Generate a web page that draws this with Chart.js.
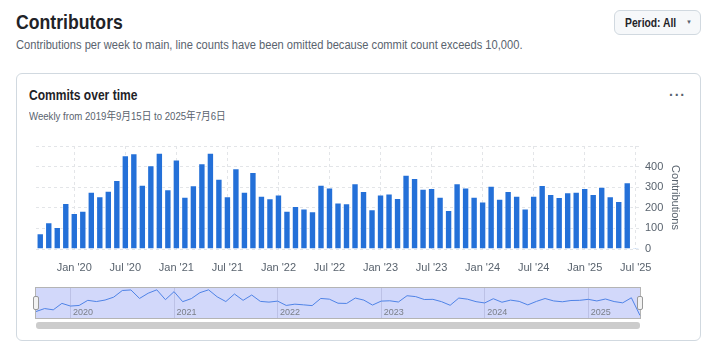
<!DOCTYPE html>
<html>
<head>
<meta charset="utf-8">
<script src="https://cdn.jsdelivr.net/npm/chart.js@4.4.1/dist/chart.umd.min.js"></script>
<style>
    body { margin: 0; width: 720px; height: 353px; overflow: hidden; background: #fff;
           font-family: "Liberation Sans", Arial, sans-serif; color: #1f2328; position: relative; }
    .abs { position: absolute; white-space: nowrap; }
    .narrow { transform-origin: 0 50%; }
    #title { left: 16px; top: 10px; font-size: 21px; font-weight: bold; transform: scaleX(0.84); }
    #sub { left: 16px; top: 38px; font-size: 12.5px; color: #59636e; transform: scaleX(0.89); }
    #period { left: 614px; top: 10px; width: 87px; height: 25px; box-sizing: border-box;
              border: 1px solid #d1d9e0; border-radius: 6px; background: #f6f8fa; }
    #ptext { left: 10px; top: 5px; font-size: 12px; font-weight: bold; transform: scaleX(0.86); }
    #caret { left: 71px; top: 8px; font-size: 6px; color: #59636e; }
    #card { left: 16px; top: 73px; width: 685px; height: 268px; box-sizing: border-box;
            border: 1px solid #d1d9e0; border-radius: 6px; }
    #ctitle { left: 29px; top: 87px; font-size: 14px; font-weight: bold; transform: scaleX(0.86); }
    #csub { left: 29px; top: 107px; font-size: 11px; color: #59636e; transform: scaleX(0.875);
            font-family: "Liberation Sans", "Noto Sans CJK JP", sans-serif; }
    #dots { left: 669px; top: 87px; font-size: 14px; font-weight: bold; letter-spacing: 1px; color: #59636e; }
    #nav { left: 35px; top: 287px; width: 606px; height: 32px; box-sizing: border-box;
           background: #d2d8fa; border: 1px solid #b4b4b4; }
    .handle { top: 296px; width: 6px; height: 14px; background: #f2f2f2; border: 1px solid #999;
              border-radius: 2px; box-sizing: border-box; }
    #scroll { left: 36px; top: 322px; width: 604px; height: 7px; background: #cccccc; border-radius: 3px; }
    canvas { position: absolute; left: 0; top: 0; }
</style>
</head>
<body>
<div class="abs narrow" id="title">Contributors</div>
<div class="abs narrow" id="sub">Contributions per week to main, line counts have been omitted because commit count exceeds 10,000.</div>
<div class="abs" id="period">
    <div class="abs narrow" id="ptext">Period: All</div>
    <div class="abs" id="caret">▼</div>
</div>
<div class="abs" id="card"></div>
<div class="abs narrow" id="ctitle">Commits over time</div>
<div class="abs narrow" id="csub">Weekly from 2019年9月15日 to 2025年7月6日</div>
<div class="abs" id="dots">···</div>
<div class="abs" id="nav"></div>
<div class="abs" id="scroll"></div>
<div style="position:absolute;left:0;top:0;width:720px;height:353px">
    <canvas id="mainChart" width="720" height="353"></canvas>
    <canvas id="navChart" width="720" height="353"></canvas>
</div>
<div class="abs handle" style="left:33px"></div>
<div class="abs handle" style="left:637px"></div>
<script>
// months shown as bars (Sep 2019 - Jul 2025)
const months = [
    '2019-09', '2019-10', '2019-11', '2019-12',
    '2020-01', '2020-02', '2020-03', '2020-04', '2020-05', '2020-06',
    '2020-07', '2020-08', '2020-09', '2020-10', '2020-11', '2020-12',
    '2021-01', '2021-02', '2021-03', '2021-04', '2021-05', '2021-06',
    '2021-07', '2021-08', '2021-09', '2021-10', '2021-11', '2021-12',
    '2022-01', '2022-02', '2022-03', '2022-04', '2022-05', '2022-06',
    '2022-07', '2022-08', '2022-09', '2022-10', '2022-11', '2022-12',
    '2023-01', '2023-02', '2023-03', '2023-04', '2023-05', '2023-06',
    '2023-07', '2023-08', '2023-09', '2023-10', '2023-11', '2023-12',
    '2024-01', '2024-02', '2024-03', '2024-04', '2024-05', '2024-06',
    '2024-07', '2024-08', '2024-09', '2024-10', '2024-11', '2024-12',
    '2025-01', '2025-02', '2025-03', '2025-04', '2025-05', '2025-06',
    '2025-07'
];

const commits = [
    76, 130, 107, 223,
    175, 186, 278, 256, 283, 335, 455, 465, 312, 406, 467, 290,
    434, 254, 309, 416, 467, 341, 256, 392, 278, 374, 259, 246,
    264, 186, 209, 197, 183, 312, 299, 226, 222, 319, 282, 193,
    264, 270, 248, 361, 345, 293, 296, 254, 189, 319, 299, 254,
    231, 307, 244, 282, 259, 196, 259, 311, 267, 252, 275, 278,
    296, 267, 302, 256, 233, 324, 6
];

const tickLabels = {
    '2020-01': "Jan '20", '2020-07': "Jul '20",
    '2021-01': "Jan '21", '2021-07': "Jul '21",
    '2022-01': "Jan '22", '2022-07': "Jul '22",
    '2023-01': "Jan '23", '2023-07': "Jul '23",
    '2024-01': "Jan '24", '2024-07': "Jul '24",
    '2025-01': "Jan '25", '2025-07': "Jul '25"
};

const yearLabels = {
    '2020-01': '2020', '2021-01': '2021', '2022-01': '2022',
    '2023-01': '2023', '2024-01': '2024', '2025-01': '2025'
};

const yTicks = [0, 100, 200, 300, 400, 500];

Chart.defaults.font.family = '"Liberation Sans", Arial, sans-serif';
Chart.defaults.color = '#59636e';

const gridColor = '#e3e5e8';

new Chart(document.getElementById('mainChart'), {
    type: 'bar',
    data: {
        labels: months,
        datasets: [{
            data: commits,
            backgroundColor: '#2470d8',
            borderColor: 'rgba(255,255,255,0.45)',
            borderWidth: 1,
            borderSkipped: 'bottom',
            barPercentage: 1,
            categoryPercentage: 0.87
        }]
    },
    options: {
        responsive: false,
        animation: false,
        layout: { padding: { left: 36, top: 146, right: 38, bottom: 74 } },
        plugins: { legend: { display: false }, tooltip: { enabled: false } },
        scales: {
            x: {
                type: 'category',
                offset: true,
                grid: { offset: false, color: gridColor, drawTicks: false },
                border: { display: false, dash: [3, 3] },
                afterBuildTicks: axis => {
                    axis.ticks = axis.ticks.filter(t => tickLabels[months[t.value]]);
                },
                afterFit: axis => { axis.height = 30; },
                ticks: {
                    autoSkip: false,
                    maxRotation: 0,
                    padding: 12,
                    font: { size: 11 },
                    callback: v => tickLabels[months[v]]
                }
            },
            y: {
                position: 'right',
                min: 0,
                max: 500,
                afterBuildTicks: axis => { axis.ticks = yTicks.map(v => ({ value: v })); },
                afterFit: axis => { axis.width = 42; },
                grid: { color: gridColor, drawTicks: false },
                border: { display: false, dash: [3, 3] },
                ticks: {
                    padding: 5,
                    font: { size: 11 },
                    callback: v => (v === 500 ? '' : v)
                },
                title: {
                    display: true,
                    text: 'Contributions',
                    font: { size: 11 },
                    padding: { top: 0, bottom: 4 }
                }
            }
        }
    }
});

// navigator below the main chart
new Chart(document.getElementById('navChart'), {
    type: 'line',
    data: {
        labels: months,
        datasets: [{
            data: commits,
            borderColor: '#4f83e6',
            borderWidth: 1,
            pointRadius: 0,
            tension: 0,
            fill: false
        }]
    },
    options: {
        responsive: false,
        animation: false,
        layout: { padding: { left: 36, top: 288, right: 80, bottom: 35 } },
        plugins: { legend: { display: false }, tooltip: { enabled: false } },
        scales: {
            x: {
                type: 'category',
                offset: false,
                grid: { color: 'rgba(110,115,160,0.22)', drawTicks: false },
                border: { display: false },
                afterBuildTicks: axis => {
                    axis.ticks = axis.ticks.filter(t => yearLabels[months[t.value]]);
                },
                afterFit: axis => { axis.height = 0; },
                ticks: {
                    autoSkip: false,
                    maxRotation: 0,
                    mirror: true,
                    padding: 0,
                    align: 'start',
                    color: '#7a7f88',
                    font: { size: 9 },
                    callback: v => ' ' + yearLabels[months[v]]
                }
            },
            y: {
                display: false,
                min: -40,
                max: 500
            }
        }
    }
});
</script>
</body>
</html>
